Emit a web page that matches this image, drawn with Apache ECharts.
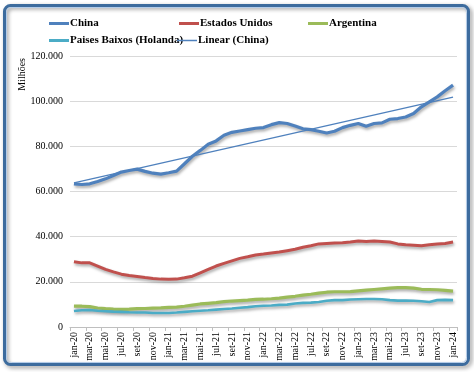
<!DOCTYPE html>
<html>
<head>
<meta charset="utf-8">
<script src="https://cdn.jsdelivr.net/npm/echarts@6/dist/echarts.min.js"></script>
<style>
html,body{margin:0;padding:0;background:#fff;}
#c{width:474px;height:372px;}
</style>
</head>
<body>
<div id="c"></div>
<script>
const categories = ['jan-20','fev-20','mar-20','abr-20','mai-20','jun-20','jul-20','ago-20','set-20','out-20','nov-20','dez-20',
'jan-21','fev-21','mar-21','abr-21','mai-21','jun-21','jul-21','ago-21','set-21','out-21','nov-21','dez-21',
'jan-22','fev-22','mar-22','abr-22','mai-22','jun-22','jul-22','ago-22','set-22','out-22','nov-22','dez-22',
'jan-23','fev-23','mar-23','abr-23','mai-23','jun-23','jul-23','ago-23','set-23','out-23','nov-23','dez-23',
'jan-24'];

const china = [63400,63100,63400,64400,65600,67100,68600,69300,69900,68900,
68100,67700,68300,69000,72300,75600,78200,80900,82400,84900,
86200,86800,87400,88000,88300,89600,90500,90100,89000,87800,
87400,86700,85900,86700,88300,89300,90100,88900,90100,90400,
92000,92300,93000,94500,97500,99700,101900,104600,107100];

const estadosUnidos = [28900,28400,28400,27000,25500,24400,23400,22800,22400,21900,
21500,21200,21100,21200,21800,22500,24000,25500,27000,28200,
29300,30400,31100,31900,32300,32800,33200,33800,34400,35300,
36000,36800,37000,37200,37300,37600,38100,37900,38100,37900,
37600,36800,36400,36200,36000,36400,36800,37000,37600];

const argentina = [9200,9200,9000,8400,8100,7900,7800,7900,8100,8200,
8400,8500,8700,8800,9200,9700,10200,10500,10800,11200,
11500,11700,11900,12200,12300,12500,12800,13200,13600,14100,
14500,15000,15400,15600,15600,15700,16000,16300,16600,16900,
17200,17400,17400,17200,16700,16600,16500,16200,15900];

const paisesBaixos = [7100,7400,7500,7200,7000,6800,6700,6500,6400,6400,
6200,6200,6200,6400,6700,7000,7200,7400,7700,8000,
8200,8500,8800,9200,9400,9500,9800,9900,10400,10700,
10800,11100,11600,11900,11900,12200,12300,12400,12400,12300,
11900,11700,11700,11600,11400,11100,11900,12000,11900];

// trend line endpoints
const linearChina = [['jan-20', 63800], ['jan-24', 101800]];

const yTicks = [0, 20000, 40000, 60000, 80000, 100000, 120000];

const names = ['China','Estados Unidos','Argentina','Paises Baixos (Holanda)','Linear (China)'];
const colors = ['#4F81BD','#C0504D','#9BBB59','#4BACC6','#4F81BD'];

const serif = '"Liberation Serif","Times New Roman",serif';
const shadow = {shadowColor:'rgba(0,0,0,0.35)', shadowBlur:3, shadowOffsetX:1, shadowOffsetY:2};

function fmt(v){ return String(v).replace(/\B(?=(\d{3})+(?!\d))/g,'.'); }

function legendAt(name, left, top){
  return {data:[name], left:left, top:top, icon:'rect', itemWidth:20, itemHeight:name==='Linear (China)'?1.5:3, itemGap:0,
    textStyle:{fontFamily:serif, fontSize:11, fontWeight:'bold', color:'#000', padding:[0,0,0,-4]}, selectedMode:false};
}

const chart = echarts.init(document.getElementById('c'), null, {renderer:'canvas'});
chart.setOption({
  animation:false,
  backgroundColor:'#fff',
  color: colors,
  legend:[
    legendAt(names[0], 44, 13),
    legendAt(names[1], 174, 13),
    legendAt(names[2], 303, 13),
    legendAt(names[3], 44, 30),
    legendAt(names[4], 172, 30)
  ],
  grid:{left:70, right:17, top:56, bottom:45, containLabel:false},
  xAxis:{
    type:'category', data:categories, boundaryGap:true,
    axisLine:{show:true, lineStyle:{color:'#BFBFBF', width:1}},
    axisTick:{show:true, interval:1, length:4, lineStyle:{color:'#BFBFBF'}},
    axisLabel:{interval:1, rotate:90, fontFamily:serif, fontSize:10, color:'#000', margin:5},
    splitLine:{show:false}
  },
  yAxis:{
    type:'value', min:0, max:120000, interval:20000,
    axisLine:{show:false}, axisTick:{show:false},
    axisLabel:{fontFamily:serif, fontSize:10, color:'#000', margin:7, formatter:function(v){return fmt(v);}},
    splitLine:{show:true, lineStyle:{color:'#D9D9D9', width:1}}
  },
  graphic:[
    {type:'rect', shape:{x:4.5, y:5.5, width:464, height:359, r:6}, silent:true, z:-1,
      style:{fill:'none', stroke:'#3D6C9E', lineWidth:3, shadowColor:'rgba(0,0,0,0.45)', shadowBlur:4, shadowOffsetX:2, shadowOffsetY:2}},
    {type:'rect', shape:{x:6.5, y:7.5, width:460, height:355, r:5}, silent:true, z:-1,
      style:{fill:'none', stroke:'#B4CCE8', lineWidth:1}},
    {type:'text', left:17, top:58, rotation:Math.PI/2, silent:true,
      style:{text:'Milhões', font:'10px '+serif, fill:'#000'}}
  ],
  series:[
    {name:names[0], type:'line', data:china, symbol:'none', smooth:false, lineStyle:Object.assign({width:3.2, color:colors[0]}, shadow), z:2},
    {name:names[1], type:'line', data:estadosUnidos, symbol:'none', lineStyle:Object.assign({width:3, color:colors[1]}, shadow), z:3},
    {name:names[2], type:'line', data:argentina, symbol:'none', lineStyle:Object.assign({width:3.2, color:colors[2]}, shadow), z:4},
    {name:names[3], type:'line', data:paisesBaixos, symbol:'none', lineStyle:Object.assign({width:2.6, color:colors[3]}, shadow), z:5},
    {name:names[4], type:'line', data:linearChina, symbol:'none', lineStyle:{width:1.3, color:colors[4]}, z:6}
  ]
});
</script>
</body>
</html>
